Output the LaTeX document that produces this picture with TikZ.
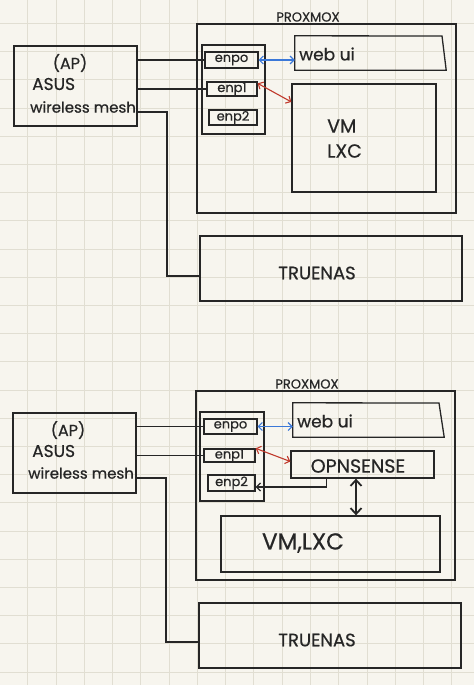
\documentclass[tikz,border=0pt]{standalone}
\usepackage{fontspec}
\setmainfont{Poppins}[FakeBold=0.6]
\usetikzlibrary{arrows.meta,fit,calc}
\definecolor{paper}{HTML}{F7F5EE}
\definecolor{gridc}{HTML}{E1DED2}
\definecolor{ink}{HTML}{262626}
\definecolor{bluearr}{HTML}{3B78D8}
\definecolor{redarr}{HTML}{C0392B}
\begin{document}
\begin{tikzpicture}[x=1pt,y=-1pt,
  box/.style={draw=ink, line width=1.3pt, inner sep=0pt},
  hold/.style={inner sep=0pt},
  lbl/.style={text=ink, inner sep=0pt},
  wire/.style={draw=ink, line width=1.2pt},
  bluew/.style={draw=bluearr, line width=1.1pt, {Straight Barb[length=4pt,width=8pt]}-{Straight Barb[length=4pt,width=8pt]}},
  redw/.style={draw=redarr, line width=1.1pt, {Straight Barb[length=4pt,width=8pt]}-{Straight Barb[length=4pt,width=8pt]}},
  blackw/.style={draw=ink, line width=1.8pt, {Straight Barb[length=6pt,width=11pt]}-{Straight Barb[length=6pt,width=11pt]}},
  onew/.style={draw=ink, line width=1.3pt, -{Straight Barb[length=4pt,width=8pt]}},
  nic/.style={font=\fontsize{13}{13}\selectfont},
  big/.style={font=\fontsize{18}{18}\selectfont},
  vmf/.style={font=\fontsize{19}{19}\selectfont},
  asusf/.style={font=\fontsize{17}{17}\selectfont},
  mid/.style={font=\fontsize{15}{15}\selectfont},
  apf/.style={font=\fontsize{16}{16}\selectfont},
  webf/.style={font=\fontsize{17}{17}\selectfont},
  small/.style={font=\fontsize{13}{13}\selectfont}
]
\fill[paper] (0,0) rectangle (474,685);
\useasboundingbox (0,0) rectangle (474,685);
\foreach \i in {0,...,15} \draw[gridc, line width=0.8pt] ({27.7+28.27*\i},0) -- ({27.7+28.27*\i},685);
\foreach \j in {0,...,23} \draw[gridc, line width=0.8pt] (0,{23.3+28.2*\j}) -- (474,{23.3+28.2*\j});

% ---------- top diagram ----------
\node[box, fit={(14,46) (137,126)}] (ap1) {};
\node[lbl, apf] (ap1a) at (70,63) {(AP)};
\node[lbl, asusf, anchor=west] (ap1b) at (32,84) {ASUS};
\node[lbl, mid, anchor=west] (ap1c) at (30,107) {wireless mesh};

\node[box, fit={(197,24) (456,213)}] (prox1) {};
\node[lbl, small] (prox1l) at (308,17) {PROXMOX};
\node[box, fit={(202,45) (265,134)}] (nic1) {};
\node[box, fit={(205,52) (258,68)}] (e0a) {};
\node[lbl, nic] at (e0a) {enpo};
\node[box, fit={(207,82) (257,96)}] (e1a) {};
\node[lbl, nic] at (e1a) {enp1};
\node[box, fit={(209,110) (257,125)}] (e2a) {};
\node[lbl, nic] at (e2a) {enp2};

\node[hold, fit={(295,36) (446,70)}] (web1) {};
\draw[ink, line width=1.3pt] (web1.north west) -- (442,36) -- (web1.south east) -- (web1.south west) -- cycle;
\node[lbl, webf, anchor=west] (web1l) at (299,54) {web ui};

\node[box, fit={(292,84) (436,192)}] (vm1) {};
\node[lbl, vmf, anchor=west] (vm1a) at (327,126) {VM};
\node[lbl, vmf, anchor=west] (vm1b) at (327,151) {LXC};

\node[box, fit={(200,236) (462,301)}] (tn1) {};
\node[lbl, big] (tn1l) at (317,273) {TRUENAS};

\draw[wire] (e0a.west -| ap1.east) -- (e0a.west);
\draw[wire] (e1a.west -| ap1.east) -- (e1a.west);
\coordinate (ap1o) at (137,112);
\coordinate (tn1i) at (200,276);
\draw[wire] (ap1o) -- ++(30,0) |- (tn1i);
\draw[bluew] (e0a.east) -- (e0a.east -| web1.west);
\coordinate (vm1i) at ($(vm1.north west)!0.17!(vm1.south west)$);
\draw[redw] ([yshift=-2pt]e1a.north east) -- (vm1i);

% ---------- bottom diagram ----------
\node[box, fit={(13,413) (136,493)}] (ap2) {};
\node[lbl, apf] (ap2a) at (68,430) {(AP)};
\node[lbl, asusf, anchor=west] (ap2b) at (32,451) {ASUS};
\node[lbl, mid, anchor=west] (ap2c) at (28,473) {wireless mesh};

\node[box, fit={(196,391) (455,580)}] (prox2) {};
\node[lbl, small] (prox2l) at (307,384) {PROXMOX};
\node[box, fit={(200,412) (264,501)}] (nic2) {};
\node[box, fit={(204,419) (257,434)}] (e0b) {};
\node[lbl, nic] at (e0b) {enpo};
\node[box, fit={(204,449) (255,462)}] (e1b) {};
\node[lbl, nic] at (e1b) {enp1};
\node[box, fit={(208,475) (255,491)}] (e2b) {};
\node[lbl, nic] at (e2b) {enp2};

\node[hold, fit={(293,403) (444,437)}] (web2) {};
\draw[ink, line width=1.3pt] (web2.north west) -- (439,403) -- (web2.south east) -- (web2.south west) -- cycle;
\node[lbl, webf, anchor=west] (web2l) at (297,421) {web ui};

\node[box, fit={(291,451) (434,478)}] (opn) {};
\node[lbl, font=\fontsize{19}{19}\selectfont] (opnl) at (358,466) {OPNSENSE};

\node[box, fit={(221,516) (440,572)}] (vm2) {};
\node[lbl, font=\fontsize{23}{23}\selectfont] (vm2l) at (303,543) {VM,LXC};

\node[box, fit={(199,603) (461,668)}] (tn2) {};
\node[lbl, big] (tn2l) at (317,640) {TRUENAS};

\draw[wire] (e0b.west -| ap2.east) -- (e0b.west);
\draw[wire] (e1b.west -| ap2.east) -- (e1b.west);
\coordinate (ap2o) at (136,478);
\coordinate (tn2i) at (199,642);
\draw[wire] (ap2o) -- ++(30,0) |- (tn2i);
\draw[bluew] (e0b.east) -- (e0b.east -| web2.west);
\draw[redw] (e1b.north east) -- ([yshift=3pt]opn.west);
\coordinate (opnv) at ($(opn.south west)!0.455!(opn.south east)$);
\draw[blackw] (opnv) -- (opnv |- vm2.north);
\coordinate (opne) at ($(opn.south west)!0.252!(opn.south east)$);
\coordinate (e2bi) at ($(e2b.east)+(0,4)$);
\draw[onew] (opne) |- (e2bi);
\end{tikzpicture}
\end{document}
